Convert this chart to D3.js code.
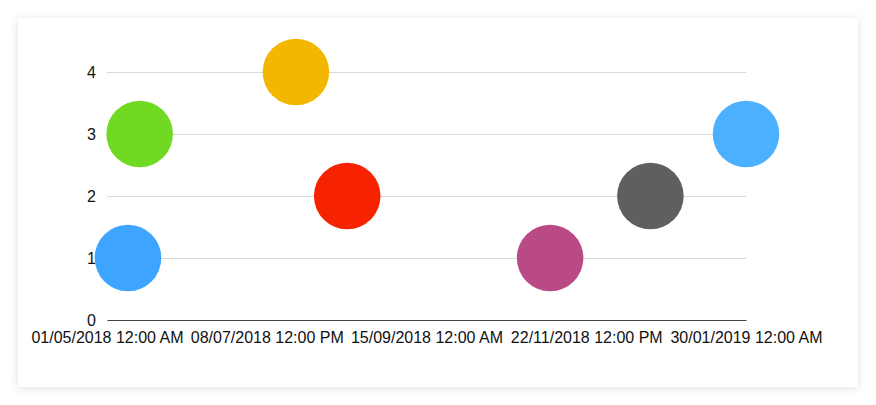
<!DOCTYPE html>
<html>
<head>
<meta charset="utf-8">
<script src="https://cdn.jsdelivr.net/npm/d3@7"></script>
<style>
  html, body { margin: 0; padding: 0; background: #fff; }
  #chart { width: 876px; height: 405px; }
</style>
</head>
<body>
<div id="chart"></div>
<script>
var width = 876;
var height = 405;

// data
var dates = ['2018-05-10', '2018-05-15', '2018-07-21', '2018-08-12', '2018-11-07', '2018-12-20', '2019-01-30'];
var values = [1, 3, 4, 2, 1, 2, 3];
var colors = ['#3da4ff', '#70da22', '#f3b700', '#f62200', '#b94a86', '#5f5f5f', '#4bb0ff'];
var yTicks = [0, 1, 2, 3, 4];
var xTicks = ['2018-05-01T00:00', '2018-07-08T12:00', '2018-09-15T00:00', '2018-11-22T12:00', '2019-01-30T00:00'];

var parse = d3.utcParse('%Y-%m-%d');
var parseT = d3.utcParse('%Y-%m-%dT%H:%M');
var fmt = d3.utcFormat('%d/%m/%Y %I:%M %p');

var svg = d3.select('#chart').append('svg')
    .attr('width', width)
    .attr('height', height);

// card with soft shadow
var defs = svg.append('defs');
var f = defs.append('filter').attr('id', 'shadow')
    .attr('x', '-5%').attr('y', '-10%').attr('width', '110%').attr('height', '120%');
f.append('feDropShadow')
    .attr('dx', 0).attr('dy', 1)
    .attr('stdDeviation', 4)
    .attr('flood-color', '#000')
    .attr('flood-opacity', 0.12);

svg.append('rect')
    .attr('x', 18).attr('y', 18)
    .attr('width', 840).attr('height', 369)
    .attr('fill', '#fff')
    .attr('filter', 'url(#shadow)');

var x = d3.scaleUtc()
    .domain([parseT(xTicks[0]), parseT(xTicks[xTicks.length - 1])])
    .range([107, 746]);

var y = d3.scaleLinear()
    .domain([0, 4])
    .range([320, 72]);

// gridlines + y labels
var yAxis = svg.append('g')
    .attr('transform', 'translate(107,0)')
    .call(d3.axisLeft(y).tickValues(yTicks).tickSize(-639).tickPadding(11).tickFormat(d3.format('d')));
yAxis.select('.domain').remove();
yAxis.selectAll('.tick line')
    .attr('stroke', '#d9d9d9');
yAxis.selectAll('.tick text')
    .style('font-family', 'Liberation Sans, Arial, sans-serif')
    .style('font-size', '16px')
    .attr('fill', '#111');

// x axis
var xAxis = svg.append('g')
    .attr('transform', 'translate(0,320)')
    .call(d3.axisBottom(x).tickValues(xTicks.map(parseT)).tickSize(0).tickPadding(12).tickFormat(fmt));
xAxis.select('.domain')
    .attr('stroke', '#444');
xAxis.selectAll('.tick text')
    .style('font-family', 'Liberation Sans, Arial, sans-serif')
    .style('font-size', '16px')
    .attr('fill', '#111');

// bubbles
svg.append('g').selectAll('circle')
    .data(dates)
    .enter().append('circle')
    .attr('cx', function (d) { return x(parse(d)); })
    .attr('cy', function (d, i) { return y(values[i]); })
    .attr('r', 33.3)
    .attr('fill', function (d, i) { return colors[i]; });
</script>
</body>
</html>
